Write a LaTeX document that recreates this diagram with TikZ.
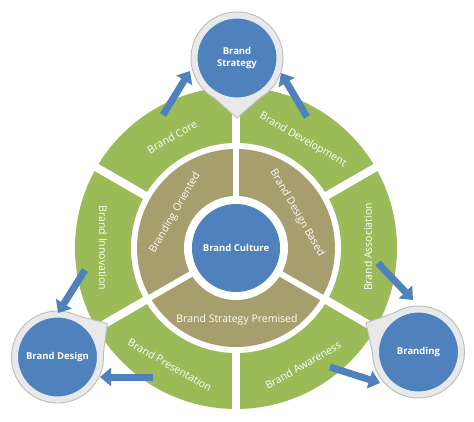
\documentclass[tikz,border=0pt]{standalone}
\usepackage{fontspec}
\setmainfont{Open Sans}
\usetikzlibrary{arrows.meta,calc}
\definecolor{bblue}{HTML}{4F81BD}
\definecolor{bgreen}{HTML}{9BBB59}
\definecolor{bolive}{HTML}{A69E6C}
\definecolor{pinfill}{HTML}{E9E9E9}
\definecolor{pinline}{HTML}{BDBDBD}
\tikzset{
  seglabel/.style={text=white,font=\fontsize{10.5}{12}\selectfont,inner sep=0pt},
  boldlabel/.style={text=white,font=\bfseries\fontsize{9.5}{12}\selectfont,align=center,inner sep=0pt},
  gapline/.style={white,line width=#1},
  blockarrow/.style={bblue,line width=7pt,-{Triangle[length=11pt,width=18pt]}},
  pin/.style={fill=pinfill,draw=pinline,line width=0.9pt},
  disc/.style={fill=bblue,draw=white!85!bblue,line width=1pt}
}
\newcommand{\mypin}[4]{% center, tip angle, name, text
  \coordinate (#3-c) at (#1);
  \path[pin] ($(#3-c)+(#2:60)$) -- ($(#3-c)+(#2+30:46)$) arc[start angle=#2+30,end angle=#2+330,radius=46] -- cycle;
  \node[disc,circle,minimum size=80pt,inner sep=0pt] (#3) at (#3-c) {};
  \node[boldlabel] (#3-t) at (#3-c) {#4};
}
\begin{document}
\begin{tikzpicture}[x=1pt,y=1pt]
\useasboundingbox (0,0) rectangle (474,421);
\fill[white] (0,0) rectangle (474,421);
\coordinate (C) at (236,173);
% rings
\fill[bgreen] (C) circle (161);
\fill[white] (C) circle (105);
\fill[bolive] (C) circle (99);
\fill[white] (C) circle (52);
\node[circle,fill=bblue,minimum size=88pt,inner sep=0pt] (core) at (C) {};
% gaps in green ring
\foreach \a in {30,90,150,210,270,330}
  \draw[gapline=8pt] ($(C)+(\a:102)$) -- ($(C)+(\a:166)$);
% gaps in olive ring
\foreach \a in {90,210,330}
  \draw[gapline=6pt] ($(C)+(\a:48)$) -- ($(C)+(\a:103)$);
% callouts
\mypin{237,363}{270}{strat}{Brand\\Strategy}
\mypin{57.5,64}{34}{design}{Brand Design}
\mypin{418.5,69}{151}{branding}{Branding}
% arrows
\coordinate (a1s) at (163,306); \coordinate (a1e) at (190,350);
\coordinate (a2s) at (307,304); \coordinate (a2e) at (281,348);
\coordinate (a3s) at (85,151);  \coordinate (a3e) at (58,108);
\coordinate (a4s) at (153,44);  \coordinate (a4e) at (100,44);
\coordinate (a5s) at (378,158); \coordinate (a5e) at (413,121);
\coordinate (a6s) at (330,54);  \coordinate (a6e) at (380,38);
\foreach \i in {1,...,6} \draw[blockarrow] (a\i s) -- (a\i e);
% labels
\node[boldlabel] (culture) at (C) {Brand Culture};
\node[seglabel,rotate=30]  (l1) at (172,284) {Brand Core};
\node[seglabel,rotate=-30] (l2) at (303,281) {Brand Development};
\node[seglabel,rotate=-90] (l3) at (103,173) {Brand Innovation};
\node[seglabel,rotate=90]  (l4) at (368,174) {Brand Association};
\node[seglabel,rotate=-30] (l5) at (170,56) {Brand Presentation};
\node[seglabel,rotate=30]  (l6) at (303,56) {Brand Awareness};
\node[seglabel,rotate=60]  (l7) at (175,208) {Branding Oriented};
\node[seglabel,rotate=-60] (l8) at (297,208) {Brand Design Based};
\node[seglabel]            (l9) at (237,101) {Brand Strategy Premised};
\end{tikzpicture}
\end{document}
